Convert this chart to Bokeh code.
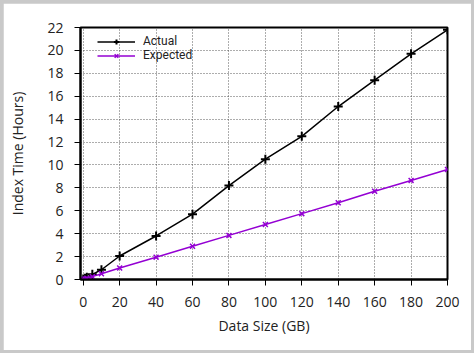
from bokeh.plotting import figure
from bokeh.layouts import column
from bokeh.models import Legend, LegendItem, FixedTicker, Range1d
from bokeh.embed import file_html
from bokeh.resources import INLINE

data_size = [0, 1, 2, 5, 10, 20, 40, 60, 80, 100, 120, 140, 160, 180, 200]
actual = [0.05, 0.1, 0.2, 0.45, 0.85, 2.05, 3.8, 5.7, 8.2, 10.5, 12.5, 15.1, 17.4, 19.7, 21.8]
expected = [0.0, 0.05, 0.1, 0.25, 0.5, 1.0, 1.95, 2.9, 3.85, 4.8, 5.75, 6.7, 7.7, 8.65, 9.6]
x_ticks = list(range(0, 201, 20))
y_ticks = list(range(0, 23, 2))

FONT = "Open Sans"
LEG_FONT = "Roboto"
PAD = 3

p = figure(width=474 - 2 * PAD, height=353 - 2 * PAD, output_backend="svg", toolbar_location=None,
           x_range=Range1d(-1.5, 200), y_range=Range1d(0, 22),
           min_border_left=80 - PAD, min_border_right=27 - PAD,
           min_border_top=27 - PAD, min_border_bottom=74 - PAD)
p.background_fill_color = "white"
p.border_fill_color = "white"
p.outline_line_color = "black"
p.outline_line_width = 2
p.outline_line_alpha = 1

for ax in (p.xaxis[0], p.yaxis[0]):
    ax.axis_line_color = "black"
    ax.axis_line_width = 2
    ax.major_tick_out = 6
    ax.major_tick_in = 0
    ax.minor_tick_out = 0
    ax.minor_tick_in = 0
    ax.major_tick_line_color = "black"
    ax.major_tick_line_width = 1
    ax.major_label_text_font = FONT
    ax.major_label_text_font_size = "14px"
    ax.major_label_text_color = "#222222"
    ax.axis_label_text_font = FONT
    ax.axis_label_text_font_size = "14px"
    ax.axis_label_text_font_style = "normal"
    ax.axis_label_text_color = "#222222"

p.xaxis.ticker = FixedTicker(ticks=x_ticks)
p.yaxis.ticker = FixedTicker(ticks=y_ticks)
p.xaxis.axis_label = "Data Size (GB)"
p.yaxis.axis_label = "Index Time (Hours)"
p.xaxis.major_label_standoff = 11
p.yaxis.major_label_standoff = 11
p.xaxis.axis_label_standoff = 6
p.yaxis.axis_label_standoff = 17

for g in (p.xgrid[0], p.ygrid[0]):
    g.grid_line_color = "#333333"
    g.grid_line_dash = "1 2"
    g.grid_line_width = 1
    g.grid_line_alpha = 0.8

l1 = p.line(data_size, actual, line_color="black", line_width=1.5)
m1 = p.scatter(data_size, actual, marker="cross", size=9, line_color="black", line_width=2)
l2 = p.line(data_size, expected, line_color="#9400D3", line_width=1.5)
m2 = p.scatter(data_size, expected, marker="x", size=7, line_color="#9400D3", line_width=1.5)

common = dict(padding=0, margin=0, spacing=0, label_height=13, glyph_height=13, glyph_width=38,
              label_standoff=8, label_text_font=LEG_FONT, label_text_font_size="12px",
              label_text_color="#222222", border_line_color=None, background_fill_alpha=0)
leg1 = Legend(items=[LegendItem(label="Actual", renderers=[l1, m1])], location=(17, 231), **common)
leg2 = Legend(items=[LegendItem(label="Expected", renderers=[l2, m2])], location=(17, 217), **common)
p.add_layout(leg1)
p.add_layout(leg2)

layout = column(p, styles={"background-color": "#c9c9c9", "padding": "%dpx" % PAD})

open("out.html", "w").write(file_html(layout, INLINE))
